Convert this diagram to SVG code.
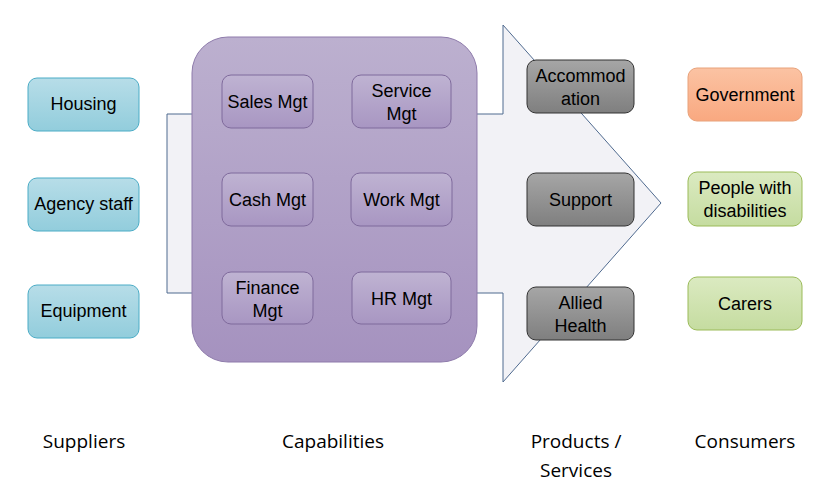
<svg xmlns="http://www.w3.org/2000/svg" width="829" height="494" viewBox="0 0 829 494">
<defs>
<linearGradient id="gb" x1="0" y1="0" x2="0" y2="1"><stop offset="0" stop-color="#b7dde8"/><stop offset="1" stop-color="#92cddc"/></linearGradient>
<linearGradient id="gp" x1="0" y1="0" x2="0" y2="1"><stop offset="0" stop-color="#bcb0cf"/><stop offset="1" stop-color="#a592bf"/></linearGradient>
<linearGradient id="gi" x1="0" y1="0" x2="0" y2="1"><stop offset="0" stop-color="#bfb3d2"/><stop offset="1" stop-color="#a896c2"/></linearGradient>
<linearGradient id="gg" x1="0" y1="0" x2="0" y2="1"><stop offset="0" stop-color="#a6a6a6"/><stop offset="1" stop-color="#7f7f7f"/></linearGradient>
<linearGradient id="go" x1="0" y1="0" x2="0" y2="1"><stop offset="0" stop-color="#fbc3a3"/><stop offset="1" stop-color="#f9a880"/></linearGradient>
<linearGradient id="gr" x1="0" y1="0" x2="0" y2="1"><stop offset="0" stop-color="#dbeac1"/><stop offset="1" stop-color="#c5dca0"/></linearGradient>
</defs>
<style>
text{font-family:"Liberation Sans",Arial,sans-serif;font-size:18px;fill:#000;text-anchor:middle}
.lbl{font-family:"Open Sans","Liberation Sans",sans-serif;font-size:19px}
.b{stroke:#4bacc6;stroke-width:1;fill:url(#gb)}
.i{stroke:#7f6a9c;stroke-width:1;fill:url(#gi)}
.g{stroke:#333;stroke-width:1;fill:url(#gg)}
.o{stroke:#e8a27a;fill:url(#go)}
.r{stroke:#9bbb59;fill:url(#gr)}
</style>
<rect width="829" height="494" fill="#fff"/>
<g id="connectors">
<path d="M167,114 H503 V25 L661,203 L503,382 V293 H167 Z" fill="#f2f2f6" stroke="#4f6a8f" stroke-width="1"/>
</g>
<g id="capabilities"><rect x="192" y="37" width="285" height="325" rx="36" fill="url(#gp)" stroke="#8e7bab"/></g>
<g id="sales"><rect class="i" x="222" y="75" width="91" height="53" rx="9"/><text x="267.5" y="108">Sales Mgt</text></g>
<g id="service"><rect class="i" x="352" y="75" width="99" height="53" rx="9"/><text x="401.5" y="97">Service</text><text x="401.5" y="120">Mgt</text></g>
<g id="cash"><rect class="i" x="222" y="173" width="91" height="53" rx="9"/><text x="267.5" y="206">Cash Mgt</text></g>
<g id="work"><rect class="i" x="351" y="173" width="101" height="53" rx="9"/><text x="401.5" y="206">Work Mgt</text></g>
<g id="finance"><rect class="i" x="222" y="272" width="91" height="52" rx="9"/><text x="267.5" y="294">Finance</text><text x="267.5" y="317">Mgt</text></g>
<g id="hr"><rect class="i" x="352" y="272" width="99" height="52" rx="9"/><text x="401.5" y="305">HR Mgt</text></g>
<g id="housing"><rect class="b" x="28" y="78" width="111" height="53" rx="9"/><text x="83.5" y="110">Housing</text></g>
<g id="agency"><rect class="b" x="28" y="178" width="111" height="53" rx="9"/><text x="83.5" y="210">Agency staff</text></g>
<g id="equipment"><rect class="b" x="28" y="285" width="111" height="53" rx="9"/><text x="83.5" y="317">Equipment</text></g>
<g id="accommodation"><rect class="g" x="527" y="60" width="107" height="53" rx="9"/><text x="580.5" y="82">Accommod</text><text x="580.5" y="105">ation</text></g>
<g id="support"><rect class="g" x="527" y="173" width="107" height="53" rx="9"/><text x="580.5" y="206">Support</text></g>
<g id="allied"><rect class="g" x="527" y="287" width="107" height="53" rx="9"/><text x="580.5" y="309">Allied</text><text x="580.5" y="332">Health</text></g>
<g id="government"><rect class="o" x="688" y="68" width="114" height="53" rx="9"/><text x="745" y="101">Government</text></g>
<g id="people"><rect class="r" x="688" y="172" width="114" height="54" rx="9"/><text x="745" y="194">People with</text><text x="745" y="217">disabilities</text></g>
<g id="carers"><rect class="r" x="688" y="277" width="114" height="53" rx="9"/><text x="745" y="310">Carers</text></g>
<g id="labels">
<text class="lbl" x="84" y="448">Suppliers</text>
<text class="lbl" x="333" y="448">Capabilities</text>
<text class="lbl" x="576" y="448">Products /</text>
<text class="lbl" x="576" y="477">Services</text>
<text class="lbl" x="745" y="448">Consumers</text>
</g>
</svg>
